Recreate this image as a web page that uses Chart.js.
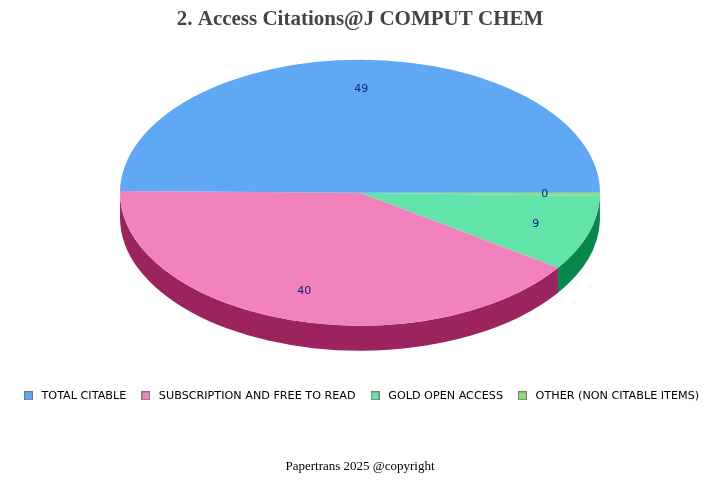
<!DOCTYPE html>
<html>
<head>
<meta charset="utf-8">
<script src="https://cdn.jsdelivr.net/npm/chart.js@4/dist/chart.umd.min.js"></script>
<style>
  html, body { margin: 0; padding: 0; background: #fff; }
  #wrap { width: 720px; height: 480px; }
</style>
</head>
<body>
<div id="wrap"><canvas id="accessChart"></canvas></div>
<script>
// values (legend order)
var categories = ['TOTAL CITABLE', 'SUBSCRIPTION AND FREE TO READ', 'GOLD OPEN ACCESS', 'OTHER (NON CITABLE ITEMS)'];
var citations = [49, 40, 9, 0.4];
var topColors = ['#60a8f4', '#f282bb', '#62e3aa', '#8ee07a'];
var sideColors = ['#3a78c0', '#9b245e', '#08874b', '#4f9e3e'];

// the slices run counter-clockwise in the picture, so feed them reversed
var pieLabels = categories.slice().reverse();
var pieValues = citations.slice().reverse();
var pieTop = topColors.slice().reverse();
var pieSide = sideColors.slice().reverse();

// small square legend markers with a grey edge
function legendSquare(color) {
  var c = document.createElement('canvas');
  c.width = 9;
  c.height = 9;
  var g = c.getContext('2d');
  g.fillStyle = color;
  g.fillRect(0, 0, 9, 9);
  g.strokeStyle = '#777';
  g.lineWidth = 1;
  g.strokeRect(0.5, 0.5, 8, 8);
  return c;
}

// flattens the pie into an ellipse and adds the dark rim under it
var pie3d = {
  id: 'pie3d',
  beforeDatasetsDraw: function(chart, args, opts) {
    var meta = chart.getDatasetMeta(0);
    var ctx = chart.ctx;
    var first = meta.data[0];
    var r = first.outerRadius;
    var cx = first.x, cy = first.y - opts.depth / 2;
    ctx.save();
    meta.data.forEach(function(arc, i) {
      var s = Math.max(arc.startAngle, 0);
      var e = Math.min(arc.endAngle, Math.PI);
      if (e <= s) return;
      ctx.beginPath();
      ctx.ellipse(cx, cy, opts.rx, opts.ry, 0, s, e);
      ctx.lineTo(cx + opts.rx * Math.cos(e), cy + opts.ry * Math.sin(e) + opts.depth);
      ctx.ellipse(cx, cy + opts.depth, opts.rx, opts.ry, 0, e, s, true);
      ctx.closePath();
      ctx.fillStyle = pieSide[i];
      ctx.fill();
    });
    ctx.restore();
    ctx.save();
    ctx.translate(cx, cy);
    ctx.scale(opts.rx / r, opts.ry / r);
    ctx.translate(-first.x, -first.y);
  },
  afterDatasetsDraw: function(chart, args, opts) {
    var ctx = chart.ctx;
    ctx.restore();
    var meta = chart.getDatasetMeta(0);
    var first = meta.data[0];
    var cx = first.x, cy = first.y - opts.depth / 2;
    ctx.save();
    ctx.font = '11px "DejaVu Sans"';
    ctx.fillStyle = '#10208a';
    ctx.textAlign = 'center';
    ctx.textBaseline = 'middle';
    meta.data.forEach(function(arc, i) {
      var mid = (arc.startAngle + arc.endAngle) / 2;
      var x = cx + opts.rx * 0.77 * Math.cos(mid);
      var y = cy + opts.ry * 0.78 * Math.sin(mid);
      ctx.fillText(String(Math.round(pieValues[i])), x, y);
    });
    ctx.restore();
  }
};

var chart = new Chart(document.getElementById('accessChart'), {
  type: 'pie',
  data: {
    labels: pieLabels,
    datasets: [{
      data: pieValues,
      backgroundColor: pieTop,
      borderWidth: 0
    }]
  },
  options: {
    responsive: true,
    maintainAspectRatio: false,
    animation: false,
    rotation: 90,
    events: [],
    layout: { padding: 0 },
    plugins: {
      pie3d: { rx: 240, ry: 133, depth: 25 },
      tooltip: { enabled: false },
      title: {
        display: true,
        text: '2. Access Citations@J COMPUT CHEM',
        color: '#444',
        font: { family: '"Liberation Serif"', size: 21, weight: 'bold' },
        padding: { top: 7, bottom: 0 }
      },
      subtitle: {
        display: true,
        position: 'bottom',
        text: 'Papertrans 2025 @copyright',
        color: '#000',
        font: { family: '"Liberation Serif"', size: 13 },
        padding: { top: 47, bottom: 6 }
      },
      legend: {
        position: 'bottom',
        reverse: true,
        labels: {
          color: '#000',
          font: { family: '"DejaVu Sans"', size: 11.2 },
          usePointStyle: true,
          pointStyleWidth: 15,
          boxHeight: 9,
          padding: 12,
          generateLabels: function(c) {
            var items = Chart.overrides.pie.plugins.legend.labels.generateLabels(c);
            items.forEach(function(it, i) {
              it.pointStyle = legendSquare(pieTop[i]);
            });
            return items;
          }
        }
      }
    }
  },
  plugins: [pie3d]
});
</script>
</body>
</html>
